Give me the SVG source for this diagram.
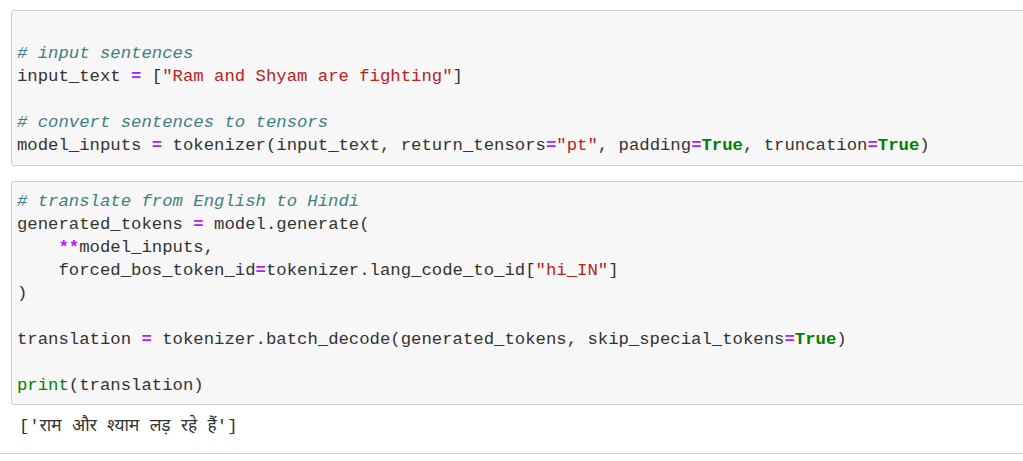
<svg xmlns="http://www.w3.org/2000/svg" width="1023" height="461" viewBox="0 0 1023 461">
<style>
text{font-family:"Liberation Mono","DejaVu Sans Mono",monospace;font-size:17.3px;fill:#333;white-space:pre}
.c{fill:#408080;font-style:italic}.s{fill:#ba2121}.o{fill:#aa22ff;font-weight:bold}.k{fill:#008000;font-weight:bold}.b{fill:#008000}
.cell{fill:#f7f7f7;stroke:#cfcfcf;stroke-width:1}
</style>
<rect width="1023" height="461" fill="#fff"/>
<g id="cell1">
<rect class="cell" x="11.5" y="10.5" width="1015" height="155" rx="2"/>
<text x="17" y="58" class="c"># input sentences</text>
<text x="17" y="81">input_text <tspan class="o">=</tspan> [<tspan class="s">"Ram and Shyam are fighting"</tspan>]</text>
<text x="17" y="127" class="c"># convert sentences to tensors</text>
<text x="17" y="150">model_inputs <tspan class="o">=</tspan> tokenizer(input_text, return_tensors<tspan class="o">=</tspan><tspan class="s">"pt"</tspan>, padding<tspan class="o">=</tspan><tspan class="k">True</tspan>, truncation<tspan class="o">=</tspan><tspan class="k">True</tspan>)</text>
</g>
<g id="cell2">
<rect class="cell" x="11.5" y="181.5" width="1015" height="223" rx="2"/>
<text x="17" y="206" class="c"># translate from English to Hindi</text>
<text x="17" y="229">generated_tokens <tspan class="o">=</tspan> model.generate(</text>
<text x="17" y="252">    <tspan class="o">**</tspan>model_inputs,</text>
<text x="17" y="275">    forced_bos_token_id<tspan class="o">=</tspan>tokenizer.lang_code_to_id[<tspan class="s">"hi_IN"</tspan>]</text>
<text x="17" y="298">)</text>
<text x="17" y="344">translation <tspan class="o">=</tspan> tokenizer.batch_decode(generated_tokens, skip_special_tokens<tspan class="o">=</tspan><tspan class="k">True</tspan>)</text>
<text x="17" y="390"><tspan class="b">print</tspan>(translation)</text>
</g>
<g id="output">
<text x="19" y="431" style="font-family:'Liberation Mono','Noto Sans Devanagari','Noto Sans',sans-serif">['राम और श्याम लड़ रहे हैं']</text>
<line x1="0" y1="453.5" x2="1023" y2="453.5" stroke="#cfcfcf"/>
</g>
</svg>
